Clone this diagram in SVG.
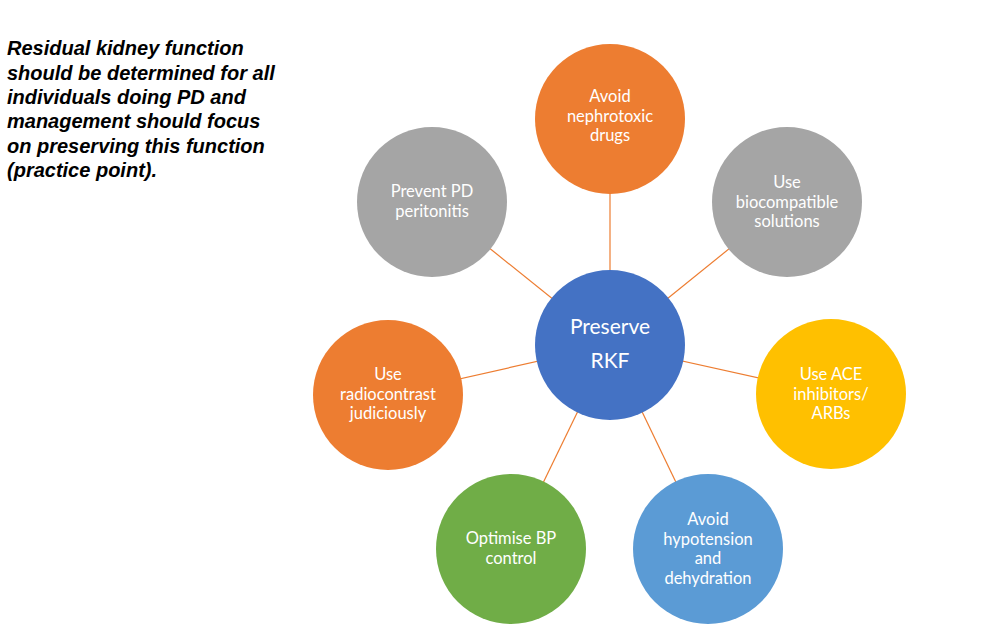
<svg xmlns="http://www.w3.org/2000/svg" width="1000" height="634" viewBox="0 0 1000 634">
<style>
.note{font-family:"Liberation Sans",Arial,sans-serif;font-size:20px;font-weight:bold;font-style:italic;fill:#000}
.lbl{font-family:Lato,"Open Sans",sans-serif;font-size:16.5px;fill:#fff;text-anchor:middle}
.ctr{font-family:Lato,"Open Sans",sans-serif;font-size:21px;fill:#fff;text-anchor:middle}
.conn line{stroke:#ED7D31;stroke-width:1.2}
</style>
<rect width="1000" height="634" fill="#fff"/>
<g id="note">
<text class="note" x="7" y="55">Residual kidney function</text>
<text class="note" x="7" y="79.5">should be determined for all</text>
<text class="note" x="7" y="104">individuals doing PD and</text>
<text class="note" x="7" y="128">management should focus</text>
<text class="note" x="7" y="152.5">on preserving this function</text>
<text class="note" x="7" y="177">(practice point).</text>
</g>
<g id="connectors" class="conn">
<line x1="610" y1="345" x2="610" y2="119"/>
<line x1="610" y1="345" x2="432" y2="202"/>
<line x1="610" y1="345" x2="787" y2="202"/>
<line x1="610" y1="345" x2="831" y2="394"/>
<line x1="610" y1="345" x2="388" y2="395"/>
<line x1="610" y1="345" x2="511" y2="549"/>
<line x1="610" y1="345" x2="708" y2="549"/>
</g>
<g id="n-top">
<circle cx="610" cy="119" r="75" fill="#ED7D31"/>
<text class="lbl" x="610" y="102">Avoid</text>
<text class="lbl" x="610" y="121.5">nephrotoxic</text>
<text class="lbl" x="610" y="141">drugs</text>
</g>
<g id="n-peritonitis">
<circle cx="432" cy="202" r="75" fill="#A5A5A5"/>
<text class="lbl" x="432" y="197">Prevent PD</text>
<text class="lbl" x="432" y="216.5">peritonitis</text>
</g>
<g id="n-biocompatible">
<circle cx="787" cy="202" r="75" fill="#A5A5A5"/>
<text class="lbl" x="787" y="188">Use</text>
<text class="lbl" x="787" y="207.5">biocompatible</text>
<text class="lbl" x="787" y="227">solutions</text>
</g>
<g id="n-ace">
<circle cx="831" cy="394" r="75" fill="#FFC000"/>
<text class="lbl" x="831" y="380">Use ACE</text>
<text class="lbl" x="831" y="399.5">inhibitors/</text>
<text class="lbl" x="831" y="419">ARBs</text>
</g>
<g id="n-radiocontrast">
<circle cx="388" cy="395" r="75" fill="#ED7D31"/>
<text class="lbl" x="388" y="380">Use</text>
<text class="lbl" x="388" y="399.5">radiocontrast</text>
<text class="lbl" x="388" y="419">judiciously</text>
</g>
<g id="n-bp">
<circle cx="511" cy="549" r="75" fill="#70AD47"/>
<text class="lbl" x="511" y="544">Optimise BP</text>
<text class="lbl" x="511" y="563.5">control</text>
</g>
<g id="n-hypotension">
<circle cx="708" cy="549" r="75" fill="#5B9BD5"/>
<text class="lbl" x="708" y="525">Avoid</text>
<text class="lbl" x="708" y="544.5">hypotension</text>
<text class="lbl" x="708" y="564">and</text>
<text class="lbl" x="708" y="583.5">dehydration</text>
</g>
<g id="n-center">
<circle cx="610" cy="345" r="75" fill="#4472C4"/>
<text class="ctr" x="610" y="334">Preserve</text>
<text class="ctr" x="610" y="368">RKF</text>
</g>
</svg>
